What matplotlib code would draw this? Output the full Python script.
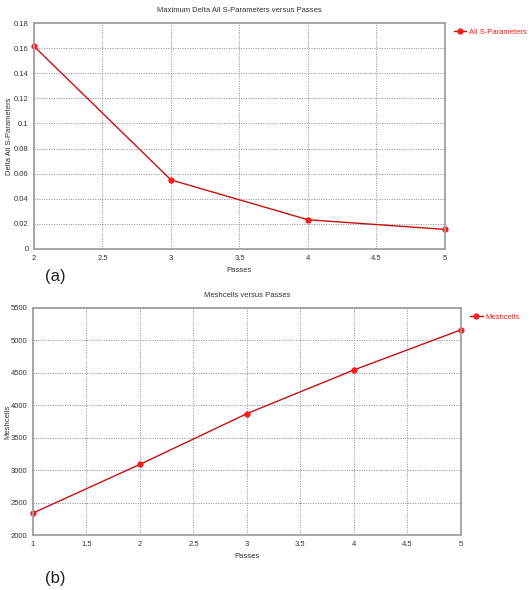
import matplotlib
matplotlib.use("Agg")
from matplotlib import pyplot as plt

# data
passes_a = [2, 3, 4, 5]
delta_s = [0.1615, 0.0550, 0.0233, 0.0156]

passes_b = [1, 2, 3, 4, 5]
meshcells = [2340, 3090, 3872, 4545, 5163]

line_col = "#c81010"
mark_col = "#ff1a1a"
spine_col = "#a0a0a0"
txt = 5.5
plt.rcParams["font.family"] = ["Liberation Sans", "DejaVu Sans"]

fig = plt.figure(figsize=(5.31, 5.90), dpi=100)


def style(ax):
	for s in ax.spines.values():
		s.set_color(spine_col)
		s.set_linewidth(1.3)
	ax.grid(True, linestyle=(0, (1, 1.5)), color="#8a8a8a", linewidth=0.7)
	ax.tick_params(length=0, labelsize=txt, pad=4, colors="#333333")
	ax.set_axisbelow(True)


# (a) delta S-parameters
ax1 = fig.add_axes([0.064, 0.578, 0.774, 0.383])
ax1.plot(passes_a, delta_s, color=line_col, lw=1.0, marker="o", ms=3.5,
	mfc=mark_col, mec=mark_col, label="All S-Parameters", clip_on=False)
ax1.set_xlim(2, 5)
ax1.set_ylim(0, 0.18)
ax1.set_xticks([2, 2.5, 3, 3.5, 4, 4.5, 5])
ax1.set_yticks([0, 0.02, 0.04, 0.06, 0.08, 0.1, 0.12, 0.14, 0.16, 0.18])
ax1.set_yticklabels(["0", "0.02", "0.04", "0.06", "0.08", "0.1", "0.12", "0.14", "0.16", "0.18"])
ax1.set_xticklabels(["2", "2.5", "3", "3.5", "4", "4.5", "5"])
style(ax1)
ax1.set_title("Maximum Delta All S-Parameters versus Passes", fontsize=txt, pad=8, color="#333333")
ax1.set_xlabel("Passes", fontsize=txt, labelpad=4, color="#333333")
ax1.set_ylabel("Delta All S-Parameters", fontsize=txt, color="#333333")
ax1.yaxis.set_label_coords(-0.05, 0.5)
ax1.legend(loc="upper left", bbox_to_anchor=(1.015, 0.99), frameon=False,
	fontsize=txt, handlelength=1.6, handletextpad=0.4, borderaxespad=0,
	labelcolor=mark_col)
fig.text(0.085, 0.523, "(a)", fontsize=12, color="#222222")

# (b) meshcells
ax2 = fig.add_axes([0.062, 0.093, 0.806, 0.385])
ax2.plot(passes_b, meshcells, color=line_col, lw=1.0, marker="o", ms=3.5,
	mfc=mark_col, mec=mark_col, label="Meshcells", clip_on=False)
ax2.set_xlim(1, 5)
ax2.set_ylim(2000, 5500)
ax2.set_xticks([1, 1.5, 2, 2.5, 3, 3.5, 4, 4.5, 5])
ax2.set_xticklabels(["1", "1.5", "2", "2.5", "3", "3.5", "4", "4.5", "5"])
ax2.set_yticks(range(2000, 5501, 500))
style(ax2)
ax2.set_title("Meshcells versus Passes", fontsize=txt, pad=8, color="#333333")
ax2.set_xlabel("Passes", fontsize=txt, labelpad=4, color="#333333")
ax2.set_ylabel("Meshcells", fontsize=txt, color="#333333")
ax2.yaxis.set_label_coords(-0.05, 0.5)
ax2.legend(loc="upper left", bbox_to_anchor=(1.015, 0.99), frameon=False,
	fontsize=txt, handlelength=1.6, handletextpad=0.4, borderaxespad=0,
	labelcolor=mark_col)
fig.text(0.085, 0.012, "(b)", fontsize=12, color="#222222")

fig.savefig("out.png", dpi=100, facecolor="white")
